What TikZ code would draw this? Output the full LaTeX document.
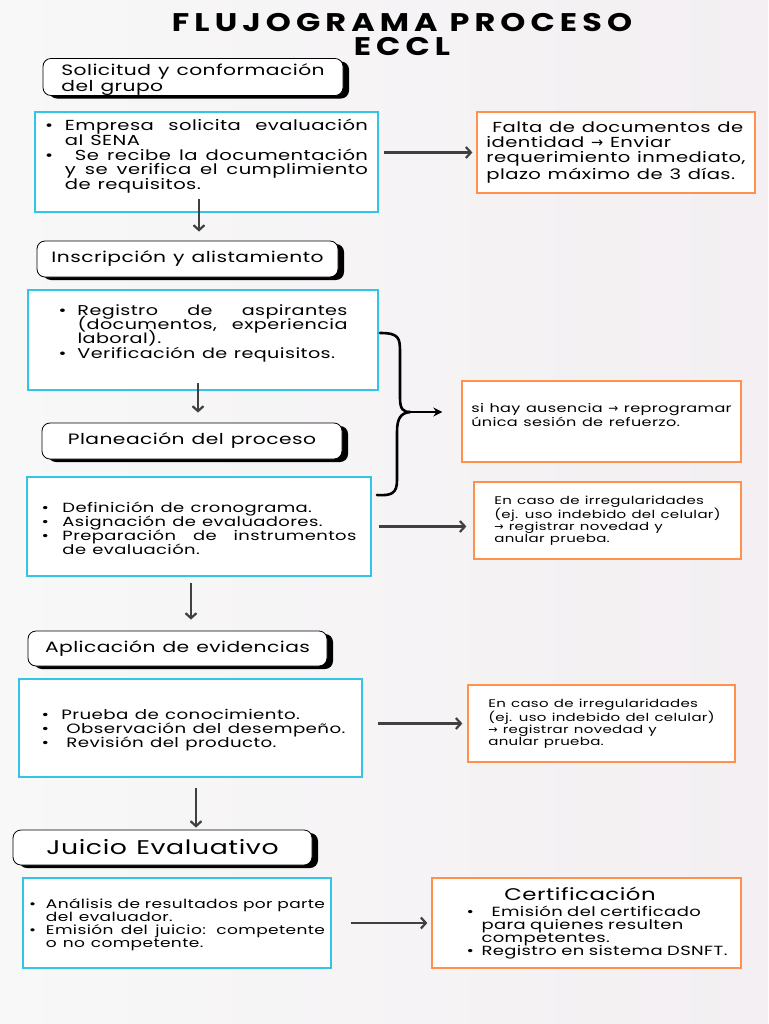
\documentclass[tikz,border=0pt]{standalone}
\usepackage{fontspec}
\setmainfont{Poppins}[FakeStretch=1.35,LetterSpace=3,WordSpace=1.2]
\newfontfamily\titulofont{Poppins}[FakeStretch=1.25,LetterSpace=20]
\newfontfamily\simbolos{DejaVu Sans}
\usetikzlibrary{arrows.meta,shadows}

\definecolor{celeste}{HTML}{33C5E8}
\definecolor{naranja}{HTML}{FF914D}
\definecolor{grisflecha}{HTML}{404040}
\definecolor{fondoizq}{HTML}{F8F8F8}
\definecolor{fondoder}{HTML}{F3EFF2}

\hyphenpenalty=10000
\exhyphenpenalty=10000

\newcommand{\punto}[1][18pt]{\par\lineskiplimit=-100pt\lineskip=0pt\hangindent=#1\hangafter=1\noindent\makebox[#1][l]{\textbullet}\ignorespaces}
\newcommand{\flechita}{{\simbolos →}}

\begin{document}
\begin{tikzpicture}[x=1pt,y=-1pt,
  encabezado/.style={draw=black,line width=0.8pt,fill=white,rounded corners=8pt,inner sep=0pt,
    drop shadow={shadow xshift=6pt,shadow yshift=-3pt,opacity=1,fill=black},
    font=\fontsize{15}{16}\selectfont},
  caja/.style={draw=celeste,line width=1.6pt,fill=white,inner sep=0pt,align=justify},
  nota/.style={draw=naranja,line width=1.3pt,fill=white,inner sep=0pt,align=left},
  flecha/.style={draw=grisflecha,line width=2.2pt,-{Straight Barb[length=5pt,width=11pt]}},
  llave/.style={draw=black,line width=2.6pt,line cap=round}]

% fondo
\shade[left color=fondoizq,right color=fondoder] (0,0) rectangle (768,1024);
\useasboundingbox (0,0) rectangle (768,1024);

% titulo
\node[font={\titulofont\bfseries\fontsize{25.5}{24}\selectfont},align=center] (titulo) at (402,34) {FLUJOGRAMA PROCESO\\ECCL};

% columna izquierda
\node[encabezado,minimum width=300,minimum height=34,align=left] (h1) at (193,77)
  {\rule{0pt}{17pt}Solicitud y conformación\\del grupo};
\node[caja,minimum width=343,minimum height=100,text width=323,font=\fontsize{14.5}{14.8}\selectfont] (b1) at (206.5,162) {%
  \punto[20pt] Empresa solicita evaluación\linebreak al SENA
  \punto[20pt]\hspace{10pt}Se recibe la documentación\linebreak y se verifica el cumplimiento\linebreak de requisitos.
  \par\vspace{15pt}\kern0pt};

\node[encabezado,minimum width=301,minimum height=36] (h2) at (187.5,259) {Inscripción y alistamiento};
\node[caja,minimum width=350,minimum height=100,text width=289,font=\fontsize{14.2}{14.3}\selectfont] (b2) at (203,340) {%
  \punto[19pt] Registro de aspirantes\linebreak (documentos, experiencia\linebreak laboral).
  \punto[19pt] Verificación de requisitos.
  \par\vspace{17pt}\kern0pt};

\node[encabezado,minimum width=300,minimum height=36] (h3) at (192,441) {Planeación del proceso};
\node[caja,minimum width=344,minimum height=99,text width=315,font=\fontsize{13.3}{14}\selectfont] (b3) at (199,526.5) {%
  \punto[21pt] Definición de cronograma.
  \punto[21pt] Asignación de evaluadores.
  \punto[21pt] Preparación de instrumentos\linebreak de evaluación.\par};

\node[encabezado,minimum width=299,minimum height=35] (h4) at (177.5,648.5) {Aplicación de evidencias};
\node[caja,minimum width=343,minimum height=98,text width=298,font=\fontsize{13.5}{14}\selectfont] (b4) at (190.5,728) {%
  \punto[20pt] \mbox{Prueba de conocimiento.}
  \punto[20pt]\hspace{5pt}\mbox{Observación del desempeño.}
  \punto[20pt]\hspace{5pt}\mbox{Revisión del producto.}\par};

\node[encabezado,minimum width=299,minimum height=35,font=\fontsize{19.8}{20}\selectfont] (h5) at (162.5,847.5) {Juicio Evaluativo};
\node[caja,minimum width=308,minimum height=90,text width=296,font=\fontsize{12.6}{13.3}\selectfont] (b5) at (177,923) {%
  \punto[17pt] Análisis de resultados por parte\linebreak del evaluador.
  \punto[17pt] Emisión del juicio: competente\linebreak o no competente.\par};

% columna derecha
\node[nota,minimum width=278,minimum height=81,font=\fontsize{14.5}{15}\selectfont] (o1) at (616,152.5)
  {\hspace*{6pt}Falta de documentos de\\identidad \flechita{} Enviar\\requerimiento inmediato,\\plazo máximo de 3 días.};
\node[nota,minimum width=279,minimum height=81,font=\fontsize{11.9}{12.5}\selectfont] (o2) at (601.5,421.5)
  {si hay ausencia \flechita{} reprogramar\\única sesión de refuerzo.\\\mbox{}};
\node[nota,minimum width=267,minimum height=77,font=\fontsize{11.1}{12}\selectfont] (o3) at (607.5,520.5)
  {En caso de irregularidades\\(ej. uso indebido del celular)\\\flechita{} registrar novedad y\\anular prueba.};
\node[nota,minimum width=267,minimum height=77,font=\fontsize{11.1}{12}\selectfont] (o4) at (601.5,723.5)
  {En caso de irregularidades\\(ej. uso indebido del celular)\\\flechita{} registrar novedad y\\anular prueba.};
\node[nota,minimum width=309,minimum height=90,text width=240,font=\fontsize{13.3}{13}\selectfont] (o5) at (586.5,923) {%
  {\centering\fontsize{16.9}{20}\selectfont Certificación\hspace*{13pt}\par}
  \vspace{3pt}
  \punto[15pt]\hspace{10pt}Emisión del certificado\newline para quienes resulten\newline competentes.
  \punto[15pt] \mbox{Registro en sistema DSNFT.}\par};

% flechas
\draw[flecha,shorten <=5pt,shorten >=4pt] (b1.east |- o1.west) -- (o1.west);
\draw[flecha,shorten <=7pt,shorten >=7pt] (b3.east) -- (b3.east -| o3.west);
\draw[flecha,shorten <=15pt,shorten >=5pt] (b4.east |- o4.west) -- (o4.west);
\draw[flecha,shorten <=19pt,shorten >=4pt] (b5.east) -- (o5.west);

\draw[flecha,shorten <=-14pt,shorten >=9pt] ([xshift=-7.5pt]b1.south) -- ([xshift=-7.5pt]b1.south |- h2.north);
\draw[flecha,shorten <=-8pt,shorten >=10pt] ([xshift=-5pt]b2.south) -- ([xshift=-5pt]b2.south |- h3.north);
\draw[flecha,shorten <=6pt,shorten >=11pt] ([xshift=-8pt]b3.south) -- ([xshift=-8pt]b3.south |- h4.north);
\draw[flecha,shorten <=10pt,shorten >=2pt] ([xshift=5.5pt]b4.south) -- ([xshift=5.5pt]b4.south |- h5.north);

% llave
\draw[llave] (380,333) .. controls (399,333) and (400,338) .. (400,352) -- (400,398)
  .. controls (400,409) and (403,412) .. (410,412);
\draw[llave] (410,412) .. controls (401,413) and (397,418) .. (397,432) -- (397,480)
  .. controls (397,493) and (392,496) .. (377,495);
\coordinate (punta) at (408,412);
\draw[llave,-{Stealth[length=9pt,width=9pt]},shorten >=19pt] (punta) -- (punta -| o2.west);

\end{tikzpicture}
\end{document}
